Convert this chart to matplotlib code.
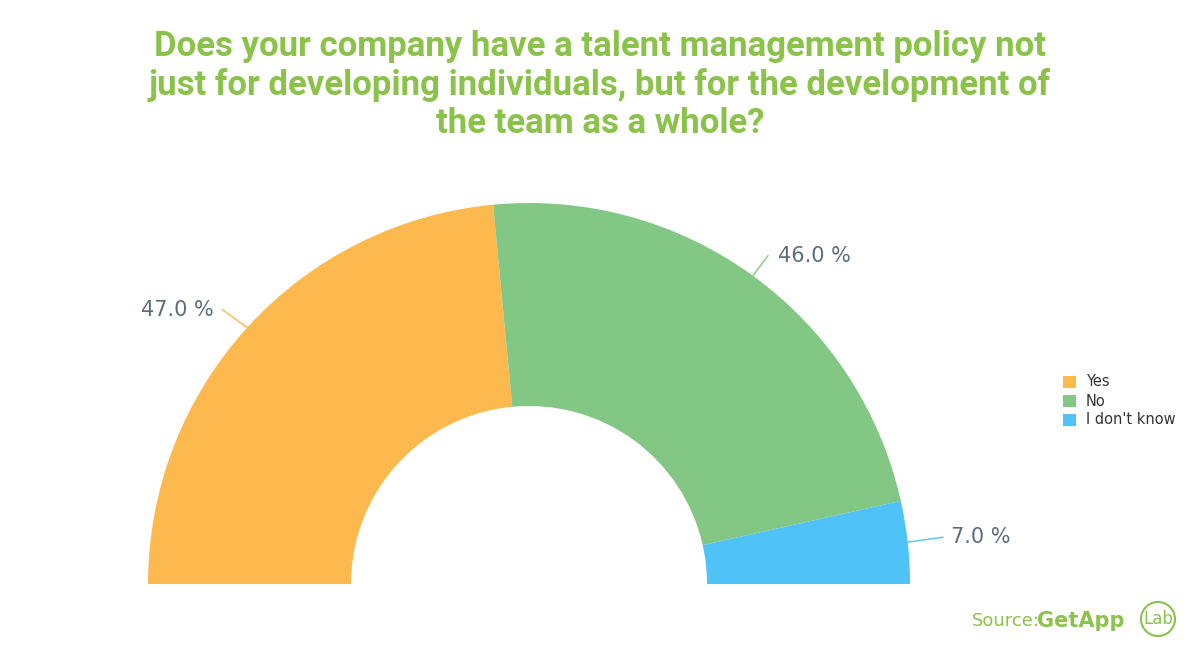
import numpy as np
import matplotlib.pyplot as plt
from matplotlib.patches import Circle

labels = ["Yes", "No", "I don't know"]
values = [47.0, 46.0, 7.0]
colors = ["#FDB84E", "#83C784", "#4FC3F7"]
title = ("Does your company have a talent management policy not\n"
         "just for developing individuals, but for the development of\n"
         "the team as a whole?")

W, H = 1200, 655
fig = plt.figure(figsize=(12, 6.55), dpi=100)
ax = fig.add_axes([0, 0, 1, 1])
ax.set_xlim(0, W)
ax.set_ylim(0, H)
ax.set_aspect("equal")
ax.axis("off")

cx, cy = 529, H - 584
r_out, r_in = 381, 178

# half donut: pad with an invisible half
wedges, _ = ax.pie(values + [sum(values)], colors=colors + ["none"],
                   startangle=180, counterclock=False, radius=r_out,
                   center=(cx, cy), wedgeprops=dict(width=r_out - r_in, linewidth=0),
                   frame=True)
ax.set_xlim(0, W)
ax.set_ylim(0, H)
ax.axis("off")

# value labels with leader lines
lab_col = "#5B6E7E"
start = 180.0
for i, v in enumerate(values):
    span = v / sum(values) * 180
    mid = np.deg2rad(start - span / 2)
    start -= span
    px, py = cx + r_out * np.cos(mid), cy + r_out * np.sin(mid)
    if np.cos(mid) < 0:
        ex, ey = px - 25, py + 18
        tx, ha = ex - 8, "right"
    elif i == 1:
        ex, ey = px + 15, py + 20
        tx, ha = ex + 10, "left"
    else:
        ex, ey = px + 35, py + 5
        tx, ha = ex + 8, "left"
    ax.plot([px, ex], [py, ey], color=colors[i], lw=1)
    ax.text(tx, ey, f"{v:.1f} %", ha=ha, va="center", fontsize=15,
            color=lab_col, family=["Liberation Sans Narrow", "DejaVu Sans"])

fig.text(0.5, 1 - 85 / H, title, ha="center", va="center", fontsize=25,
         fontweight="bold", color="#8BC34A", linespacing=1.2,
         family=["Roboto", "DejaVu Sans"])

# legend
for i, lab in enumerate(labels):
    y = H - 382 - i * 19
    ax.add_patch(plt.Rectangle((1063, y - 6), 13, 12, color=colors[i], lw=0))
    ax.text(1086, y, lab, va="center", fontsize=10.5, color="#333333")

# source
g = "#8BC34A"
ax.text(972, H - 621, "Source:", va="center", fontsize=13, color=g)
ax.text(1037, H - 621, "GetApp", va="center", fontsize=15, color=g, fontweight="bold")
ax.add_patch(Circle((1158, H - 619), 17, fill=False, ec=g, lw=1.5))
ax.text(1158, H - 619, "Lab", ha="center", va="center", fontsize=12, color=g)

fig.savefig("out.png", dpi=100)
